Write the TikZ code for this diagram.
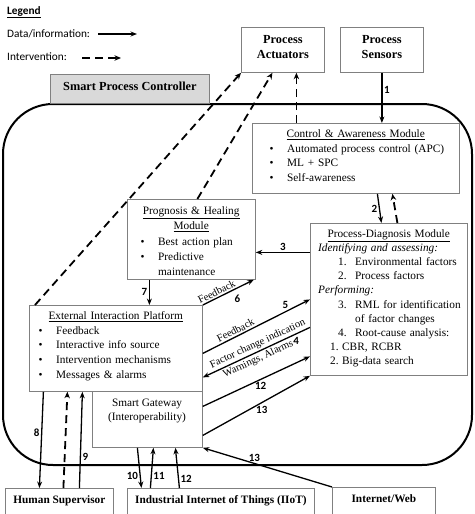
\documentclass[tikz,border=0pt]{standalone}
\usepackage{fontspec}
\setmainfont{Liberation Serif}
\newfontfamily\legendfont{Carlito}
\usepackage{tikz}
\usetikzlibrary{arrows.meta}
\definecolor{spcGray}{RGB}{217,217,217}
\definecolor{boxLine}{RGB}{128,128,128}

\newcommand{\boxtitle}[1]{\makebox[\linewidth]{\underline{#1}}\par}
\newcommand{\bitem}[2]{\hspace*{#1}\makebox[17.5pt][l]{\textbullet}#2\par}
\newcommand{\nitem}[4]{\hspace*{#1}\makebox[#2][l]{#3}#4\par}

\begin{document}
\begin{tikzpicture}[x=1pt, y=-1pt,
  box/.style={draw=boxLine, fill=white, line width=0.8pt, inner sep=0pt, anchor=north west},
  boldbox/.style={box, align=center, font=\fontsize{11.3}{14}\selectfont\bfseries},
  intext/.style={inner sep=0pt, anchor=base west, align=left, font=\fontsize{11.3}{14.7}\selectfont},
  legfont/.style={inner sep=0pt, anchor=west, font=\legendfont\fontsize{11.3}{13}\selectfont},
  num/.style={inner sep=1.5pt, font=\legendfont\bfseries\fontsize{11}{13}\selectfont},
  lbl/.style={inner sep=1.5pt, sloped, font=\fontsize{10.5}{12}\selectfont},
  dataflow/.style={line width=1.3pt, -{Stealth[length=6.5pt,width=5pt]}},
  interv/.style={line width=1.8pt, dash pattern=on 8pt off 5pt, -{Stealth[length=6.5pt,width=5.5pt]}}]
  \useasboundingbox (0,0) rectangle (474,514);

  % legend
  \node[legfont] (legtitle) at (7,12) {\bfseries\underline{Legend}};
  \node[legfont] (legdata) at (7,34) {Data/information:};
  \node[legfont] (legint) at (7,57) {Intervention:};
  \coordinate (legdataA) at (98,34);
  \coordinate (legdataB) at (137,34);
  \coordinate (legintA) at (82,58);
  \coordinate (legintB) at (121,58);
  \draw[dataflow] (legdataA) -- (legdataB);
  \draw[interv] (legintA) -- (legintB);

  % controller frame
  \draw[line width=2pt, rounded corners=50pt] (3,104) rectangle (472,465);
  \node[boldbox, fill=spcGray, minimum width=159pt, minimum height=29pt, text depth=5pt,
        font=\fontsize{12.3}{14}\selectfont\bfseries] (spc) at (50,74) {Smart Process Controller};

  % outside boxes
  \node[boldbox, minimum width=83pt, minimum height=45pt, text depth=6pt,
        font=\fontsize{12.3}{15}\selectfont\bfseries] (act) at (241,27) {Process\\Actuators};
  \node[boldbox, minimum width=83pt, minimum height=45pt, text depth=6pt,
        font=\fontsize{12.3}{15}\selectfont\bfseries] (sen) at (340,27) {Process\\Sensors};
  \node[boldbox, minimum width=108pt, minimum height=30pt, text depth=8pt] (hs) at (5,488) {Human Supervisor};
  \node[boldbox, minimum width=187pt, minimum height=30pt, text depth=8pt] (iiot) at (127,488) {Industrial Internet of Things (IIoT)};
  \node[boldbox, minimum width=103pt, minimum height=31pt, text depth=8pt] (web) at (332,487) {Internet/Web};

  % modules
  \node[box, minimum width=207pt, minimum height=70pt] (ca) at (252,123) {};
  \node[intext, text width=207pt] (catext) at (252,137.5) {%
    \boxtitle{Control \& Awareness Module}
    \bitem{17.5pt}{Automated process control (APC)}
    \bitem{17.5pt}{ML + SPC}
    \bitem{17.5pt}{Self-awareness}};

  \node[box, minimum width=128pt, minimum height=80pt] (ph) at (127,199) {};
  \node[intext, text width=128pt] (phtext) at (127,214.5) {%
    \boxtitle{Prognosis \& Healing}
    \boxtitle{Module}\vspace{2pt}
    \bitem{13.5pt}{Best action plan}
    \bitem{13.5pt}{Predictive}
    \hspace*{31pt}maintenance\par};

  \node[box, minimum width=157pt, minimum height=152pt] (pdm) at (310,223) {};
  \node[intext, text width=157pt, font=\fontsize{11.3}{14.1}\selectfont] (pdmtext) at (310,237.5) {%
    \boxtitle{Process-Diagnosis Module}
    \hspace*{8pt}\textit{Identifying and assessing:}\par
    \nitem{28pt}{17pt}{1.}{Environmental factors}
    \nitem{28pt}{17pt}{2.}{Process factors}
    \hspace*{8pt}\textit{Performing:}\par
    \nitem{28pt}{17pt}{3.}{RML for identification}
    \hspace*{45pt}of factor changes\par
    \nitem{28pt}{17pt}{4.}{Root-cause analysis:}
    \nitem{20pt}{12pt}{1.}{CBR, RCBR}
    \nitem{20pt}{12pt}{2.}{Big-data search}};

  \node[box, minimum width=173pt, minimum height=86pt] (eip) at (29,305) {};
  \node[intext, text width=173pt] (eiptext) at (29,319.5) {%
    \boxtitle{External Interaction Platform}
    \bitem{9.5pt}{Feedback}
    \bitem{9.5pt}{Interactive info source}
    \bitem{9.5pt}{Intervention mechanisms}
    \bitem{9.5pt}{Messages \& alarms}};

  \node[box, minimum width=110pt, minimum height=56pt] (sg) at (92,391) {};
  \node[align=center, inner sep=0pt, font=\fontsize{11.3}{13.5}\selectfont] (sgtext) at (147,411)
    {Smart Gateway\\(Interoperability)};

  % data flows
  \draw[dataflow] (sen.south) -- (ca.north -| sen.south) node[num, pos=0.35, right] {1};
  \draw[dataflow] ([xshift=21.5pt]ca.south) -- ([xshift=-7.5pt]pdm.north) node[num, midway, left] {2};
  \draw[dataflow] ([yshift=47pt]pdm.west) -- ([yshift=-13pt]ph.east) node[num, midway, above] {3};
  \draw[dataflow] ([xshift=-42pt]ph.south) -- ([xshift=33.5pt]eip.north) node[num, midway, left] {7};
  \draw[dataflow] (eip.north east) -- ([xshift=-2pt]ph.south east)
    node[lbl, pos=0.32, above] {Feedback} node[num, pos=0.68, below=5pt] {6};
  \draw[dataflow] ([yshift=-5pt]eip.east) -- (pdm.west)
    node[lbl, pos=0.33, above] {Feedback} node[num, pos=0.77, above=1pt] {5};
  \draw[dataflow] ([yshift=-28pt]pdm.west) -- ([yshift=-29pt]eip.east)
    node[lbl, pos=0.46, above] {Factor change indication}
    node[lbl, pos=0.51, below] {Warnings, Alarms}
    node[num, pos=0.13, below=1pt] {4};
  \draw[dataflow] ([yshift=13pt]sg.east) -- ([yshift=-57pt]pdm.west) node[num, pos=0.54, below=1pt] {12};
  \draw[dataflow] ([yshift=-16pt]sg.east) -- (pdm.south west) node[num, pos=0.55, below=2pt] {13};
  \draw[dataflow] (web.north west) -- (sg.south east) node[num, pos=0.6, above] {13};
  \draw[dataflow] ([xshift=-10pt]sg.south) -- ([xshift=-79.5pt]iiot.north) node[num, pos=0.7, left] {10};
  \draw[dataflow] ([xshift=-70.5pt]iiot.north) -- ([xshift=6pt]sg.south) node[num, pos=0.3, right] {11};
  \draw[dataflow] ([xshift=-41.5pt]iiot.north) -- ([xshift=28pt]sg.south) node[num, pos=0.22, right] {12};
  \draw[dataflow] ([xshift=-72.5pt]eip.south) -- ([xshift=-20pt]hs.north) node[num, pos=0.43, left] {8};
  \draw[dataflow] ([xshift=20pt]hs.north) -- ([xshift=-33.5pt]eip.south) node[num, pos=0.32, right] {9};

  % interventions
  \draw[interv] ([xshift=8.5pt]pdm.north) -- ([xshift=36.5pt]ca.south);
  \draw[interv] ([xshift=-59.5pt]ca.north) -- ([xshift=13.5pt]act.south);
  \draw[interv] ([xshift=6pt]ph.north) -- ([xshift=-10.5pt]act.south);
  \draw[interv] ([xshift=6pt]eip.north west) -- (act.south west);
  \draw[interv] ([xshift=4pt]hs.north) -- ([xshift=-48.5pt]eip.south);
\end{tikzpicture}
\end{document}
